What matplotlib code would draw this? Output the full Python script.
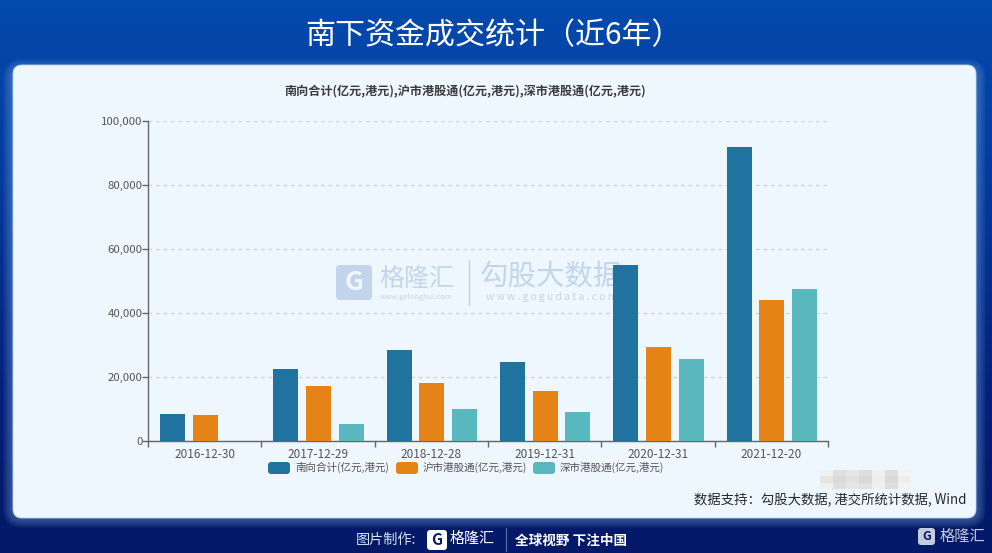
import numpy as np
import matplotlib
matplotlib.use("Agg")
import matplotlib.pyplot as plt
from matplotlib.patches import FancyBboxPatch
from matplotlib.ticker import FuncFormatter

plt.rcParams["font.family"] = ["Noto Sans CJK SC", "DejaVu Sans"]

dates = ["2016-12-30", "2017-12-29", "2018-12-28", "2019-12-31", "2020-12-31", "2021-12-20"]
south_total = [8300, 22500, 28300, 24700, 55000, 92000]
sh_connect = [8200, 17200, 18200, 15600, 29500, 44200]
sz_connect = [0, 5300, 10100, 9100, 25500, 47600]
names = ["南向合计(亿元,港元)", "沪市港股通(亿元,港元)", "深市港股通(亿元,港元)"]
colors = ["#20739f", "#e68317", "#58b8bd"]
y_ticks = [0, 20000, 40000, 60000, 80000, 100000]

W, H = 992, 553
fig = plt.figure(figsize=(W / 100, H / 100), dpi=100)

# background layer in pixel coordinates
bg = fig.add_axes([0, 0, 1, 1], zorder=0)
bg.axis("off")

stops = np.array([[0x05, 0x4a, 0xad], [0x03, 0x3c, 0x9e], [0x03, 0x20, 0x7a], [0x04, 0x1a, 0x68]]) / 255
grad = np.stack([np.interp(np.linspace(0, 1, 256), [0, 0.3, 0.72, 0.95], stops[:, c]) for c in range(3)], axis=1)
bg.imshow(grad[:, None, :], extent=[0, W, H, 0], aspect="auto", zorder=0)
bg.set_xlim(0, W)
bg.set_ylim(H, 0)

# soft glow around the card, shifted down so the top edge stays dark
for pad in range(10, 0, -1):
    bg.add_patch(FancyBboxPatch((20, 76), 949, 435, boxstyle=f"round,pad={7 + pad},rounding_size={9 + pad}",
                                fc="#7fb0e8", ec="none", alpha=0.05, zorder=1))
bg.add_patch(FancyBboxPatch((20, 72), 949, 439, boxstyle="round,pad=7,rounding_size=9",
                            fc="#eef6fe", ec="#bcd6f2", lw=0.6, zorder=2))

bg.text(493.5, 35.5, "南下资金成交统计（近6年）", color="white", fontsize=21.6, ha="center", va="center", zorder=3)
bg.text(465, 92, ",".join(names), color="#3a3a3a", fontsize=8.7, fontweight="bold", ha="center", va="center", zorder=3)

# watermark
wm = "#c3d5ec"
bg.add_patch(FancyBboxPatch((336, 265), 36, 35, boxstyle="round,pad=0,rounding_size=4", fc=wm, ec="none", zorder=3))
bg.text(354, 282, "G", color="#eef6fe", fontsize=19, fontweight="bold", ha="center", va="center", zorder=4)
bg.text(416.5, 279, "格隆汇", color=wm, fontsize=18, ha="center", va="center", zorder=3)
bg.text(416.5, 297, "www.gelonghui.com", color=wm, fontsize=5.4, ha="center", va="center", zorder=3)
bg.plot([469, 469], [260, 305], color=wm, lw=1, zorder=3)
bg.text(551, 276, "勾股大数据", color=wm, fontsize=20.5, ha="center", va="center", zorder=3)
bg.text(552, 297, "w w w . g o g u d a t a . c o m", color=wm, fontsize=7.4, ha="center", va="center", zorder=3)

# legend
swatch_x = [268, 396, 533]
for x0, name, c in zip(swatch_x, names, colors):
    bg.add_patch(FancyBboxPatch((x0, 462), 22, 12, boxstyle="round,pad=0,rounding_size=3", fc=c, ec="none", zorder=3))
    bg.text(x0 + 27, 467.5, name, color="#555555", fontsize=7.6, va="center", zorder=3)

# blurred-out patch
blur = np.array([[0.94, 0.87, 0.9, 0.87, 0.94, 0.87, 0.95],
                 [0.9, 0.85, 0.88, 0.85, 0.93, 0.85, 0.93],
                 [0.94, 0.87, 0.9, 0.88, 0.94, 0.87, 0.95]])
bg.imshow(blur, cmap="gray", vmin=0, vmax=1.0, extent=[820, 911, 489, 470], aspect="auto",
          interpolation="nearest", zorder=3)
bg.set_xlim(0, W)
bg.set_ylim(H, 0)

bg.text(966, 499, "数据支持：勾股大数据, 港交所统计数据, Wind", color="#26282e",
        fontsize=9.6, ha="right", va="center", zorder=3)

# footer
bg.text(386, 540, "图片制作:", color="#d8e2f2", fontsize=10.2, ha="center", va="center", zorder=3)
bg.add_patch(FancyBboxPatch((427, 530), 20, 20, boxstyle="round,pad=0,rounding_size=3", fc="white", ec="none", zorder=3))
bg.text(437, 540, "G", color="#041a68", fontsize=11, fontweight="bold", ha="center", va="center", zorder=4)
bg.text(472.5, 539, "格隆汇", color="white", fontsize=10.8, ha="center", va="center", zorder=3)
bg.plot([505.5, 505.5], [528, 551], color="#5a6fa8", lw=0.8, zorder=3)
bg.text(571, 541, "全球视野 下注中国", color="white", fontsize=9.8, fontweight="bold", ha="center", va="center", zorder=3)
bg.add_patch(FancyBboxPatch((918, 528), 17, 17, boxstyle="round,pad=0,rounding_size=3", fc="#c5cbdc", ec="none", zorder=3))
bg.text(926.5, 536.5, "G", color="#041a68", fontsize=9, fontweight="bold", ha="center", va="center", zorder=4)
bg.text(962.5, 536, "格隆汇", color="#c5cbdc", fontsize=11, ha="center", va="center", zorder=3)

# chart
ax = fig.add_axes([148 / W, 1 - 441 / H, 680 / W, 320 / H], zorder=1)
ax.patch.set_alpha(0)
x = np.arange(len(dates))
offset = 0.288
width = 0.222
for vals, dx, c in zip([south_total, sh_connect, sz_connect], [-offset, 0, offset], colors):
    ax.bar(x + dx + 0.004, vals, width, color=c, zorder=3)

ax.set_xlim(-0.5, 5.5)
ax.set_ylim(0, 100000)
ax.set_xticks(x)
ax.set_xticklabels(dates, fontsize=8.5, color="#555555")
ax.set_xticks(np.arange(-0.5, 6), minor=True)
ax.tick_params(axis="x", which="major", length=0, pad=5)
ax.tick_params(axis="x", which="minor", length=4, width=1, color="#666666")
ax.set_yticks(y_ticks)
ax.yaxis.set_major_formatter(FuncFormatter(lambda v, _: f"{int(v):,}"))
ax.tick_params(axis="y", length=4, width=1, color="#666666", labelsize=8.2, labelcolor="#555555", pad=0)
ax.grid(axis="y", color="#cfd3d8", linewidth=0.9, linestyle=(0, (3, 3)), zorder=1)
ax.set_axisbelow(True)
for s in ["top", "right"]:
    ax.spines[s].set_visible(False)
for s in ["left", "bottom"]:
    ax.spines[s].set_color("#666666")
    ax.spines[s].set_linewidth(1)

fig.savefig("out.png", dpi=100)
plt.close(fig)
